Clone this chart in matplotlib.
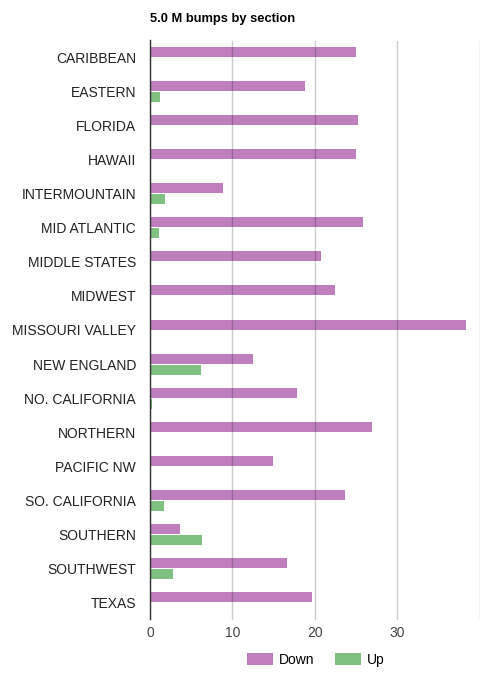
import numpy as np
import matplotlib
matplotlib.use("Agg")
import matplotlib.pyplot as plt

plt.rcParams["font.family"] = ["Liberation Sans", "DejaVu Sans"]

# =========================================================
# Data
# =========================================================

sections = [
    "CARIBBEAN", "EASTERN", "FLORIDA", "HAWAII", "INTERMOUNTAIN",
    "MID ATLANTIC", "MIDDLE STATES", "MIDWEST", "MISSOURI VALLEY",
    "NEW ENGLAND", "NO. CALIFORNIA", "NORTHERN", "PACIFIC NW",
    "SO. CALIFORNIA", "SOUTHERN", "SOUTHWEST", "TEXAS",
]
down = [25.0, 18.8, 25.3, 25.0, 8.8, 25.9, 20.8, 22.5, 38.3,
        12.5, 17.9, 26.9, 14.9, 23.7, 3.7, 16.6, 19.7]
up = [0, 1.2, 0, 0, 1.8, 1.1, 0, 0, 0,
      6.2, 0.3, 0, 0, 1.7, 6.3, 2.8, 0]

x_ticks = [0, 10, 20, 30, 40]
x_tick_labels = ["0", "10", "20", "30", ""]

# =========================================================
# Plot
# =========================================================

fig = plt.figure(figsize=(4.8, 6.8), dpi=100)
ax = fig.add_axes([150 / 480, 1 - 619.5 / 680, 330 / 480, 579 / 680])

y = np.arange(len(sections))
bar_h = 0.293
off = 0.161

ax.barh(y - off, down, height=bar_h, color="#bf7fbf", label="Down")
ax.barh(y + off, up, height=bar_h, color="#80c080", label="Up")

ax.set_ylim(len(sections) - 0.5, -0.5)
ax.set_xlim(0, 40.05)
ax.set_yticks(y)
ax.set_yticklabels(sections, fontsize=10, color="#222222")
ax.set_xticks(x_ticks)
ax.set_xticklabels(x_tick_labels, fontsize=10, color="#444444")
ax.tick_params(axis="both", length=0)
ax.tick_params(axis="y", pad=10)
ax.tick_params(axis="x", pad=5)

ax.set_axisbelow(False)
ax.grid(axis="x", color="black", alpha=0.2, linewidth=1)
ax.grid(axis="y", visible=False)

for s in ["top", "right", "bottom"]:
    ax.spines[s].set_visible(False)
ax.spines["left"].set_color("#333333")
ax.spines["left"].set_linewidth(1)
ax.spines["left"].set_zorder(5)

fig.text(150 / 480, 1 - 19 / 680, "5.0 M bumps by section",
         fontsize=9.3, fontweight="bold", va="center", ha="left")

fig.legend(
    loc="center",
    bbox_to_anchor=(316 / 480, 1 - 660 / 680),
    ncol=2,
    frameon=False,
    fontsize=10,
    handlelength=1.87,
    handleheight=0.93,
    handletextpad=0.4,
    columnspacing=1.5,
)

fig.savefig("out.png", dpi=100)
